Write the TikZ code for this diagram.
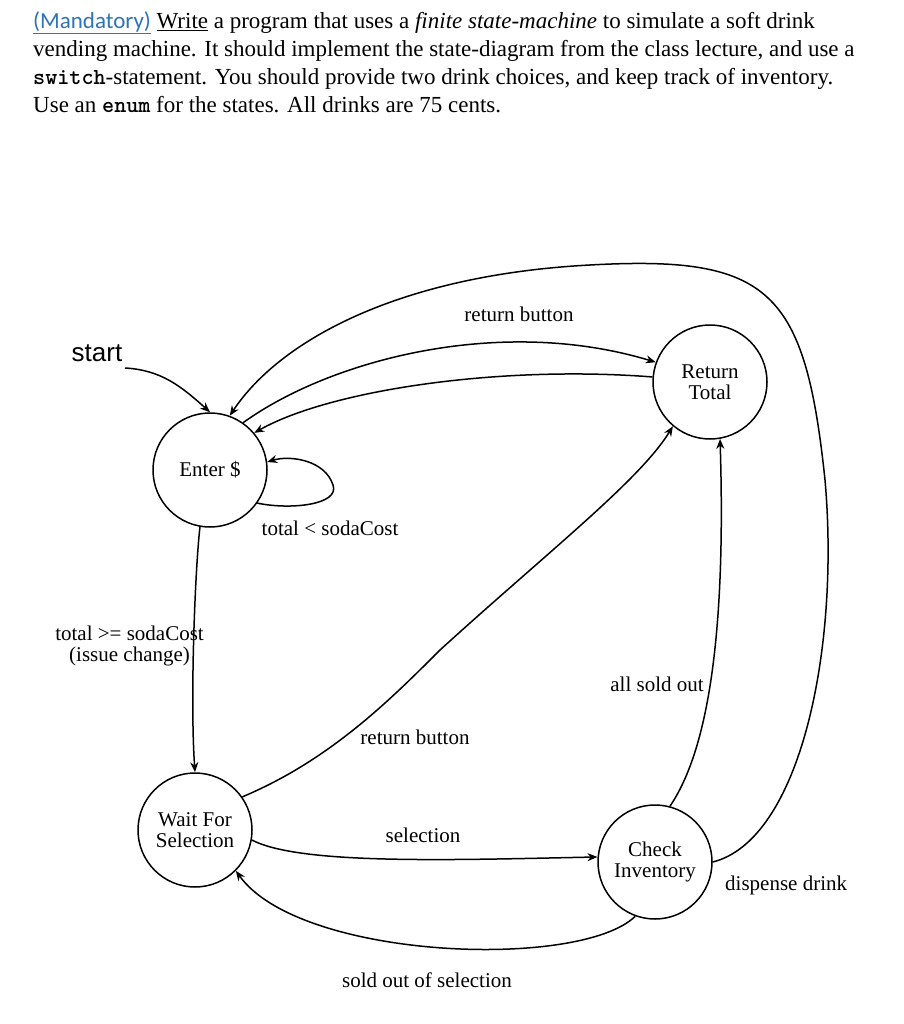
\documentclass[tikz,border=0pt]{standalone}
\usepackage{fontspec}
\setmainfont{Liberation Serif}
\newfontfamily\hsans{Liberation Sans}
\newfontfamily\csans{Carlito}
\usetikzlibrary{arrows.meta}
\begin{document}
\begin{tikzpicture}[x=1pt,y=-1pt,
  st/.style={circle,draw,line width=1.5pt,minimum size=114pt,inner sep=0pt,align=center,font=\fontsize{21}{21}\selectfont},
  ed/.style={line width=1.5pt,-{Stealth[length=10pt,width=8pt]}},
  lb/.style={font=\fontsize{21}{21}\selectfont,align=center,inner sep=1pt}]
\useasboundingbox[fill=white] (0,0) rectangle (903,1024);
\node[anchor=north west,align=left,inner sep=0pt,font=\fontsize{23}{28}\selectfont] (hdr) at (33,11)
{{\csans\color[RGB]{46,116,181}\underline{(Mandatory)}} \underline{Write} a program that uses a \textit{finite state-machine} to simulate a soft drink\\
vending machine. It should implement the state-diagram from the class lecture, and use a\\
\textbf{\ttfamily switch}-statement. You should provide two drink choices, and keep track of inventory.\\
Use an \textbf{\ttfamily enum} for the states. All drinks are 75 cents.};
\node[st] (E) at (210,470) {Enter \$};
\node[st] (R) at (710,382) {Return\\Total};
\node[st] (W) at (195,830) {Wait For\\Selection};
\node[st] (C) at (655,862) {Check\\Inventory};
\node[font=\hsans\fontsize{26}{26}\selectfont] (s) at (97,353) {start};
\coordinate (s1) at (125,368);
\draw[ed] (s1) .. controls (160,370) and (180,385) .. (E.north);
% outer loop
\draw[ed] (C.east) .. controls (800,840) and (840,650) .. (825,480) .. controls (805,290) and (770,255) .. (590,265) .. controls (400,275) and (280,340) .. (E.70);
\node[lb,anchor=west] at (724,885) {dispense drink};
\draw[ed] (E.55) .. controls (330,360) and (500,315) .. (R.160);
\node[lb] at (519,314) {return button};
\draw[ed] (R.175) .. controls (500,365) and (330,390) .. (E.40);
\draw[ed] (E.-100) .. controls (195,570) and (190,700) .. (W.north);
\node[lb,anchor=east] at (205,646) {total >= sodaCost\\(issue change)};
\draw[ed] (E.-35) .. controls (290,510) and (340,505) .. (333,485) .. controls (325,460) and (290,455) .. (E.8);
\node[lb] at (330,528) {total < sodaCost};
\draw[ed] (W.35) .. controls (330,760) and (390,700) .. (440,650) .. controls (550,550) and (640,480) .. (R.-130);
\node[lb] at (415,737) {return button};
\draw[ed] (W.-10) .. controls (300,865) and (450,860) .. (C.175);
\node[lb] at (423,835) {selection};
\draw[ed] (C.-110) .. controls (580,970) and (300,960) .. (W.-45);
\node[lb] at (427,980) {sold out of selection};
\draw[ed] (C.75) .. controls (715,740) and (725,600) .. (R.-80);
\node[lb] at (657,684) {all sold out};
\end{tikzpicture}
\end{document}
